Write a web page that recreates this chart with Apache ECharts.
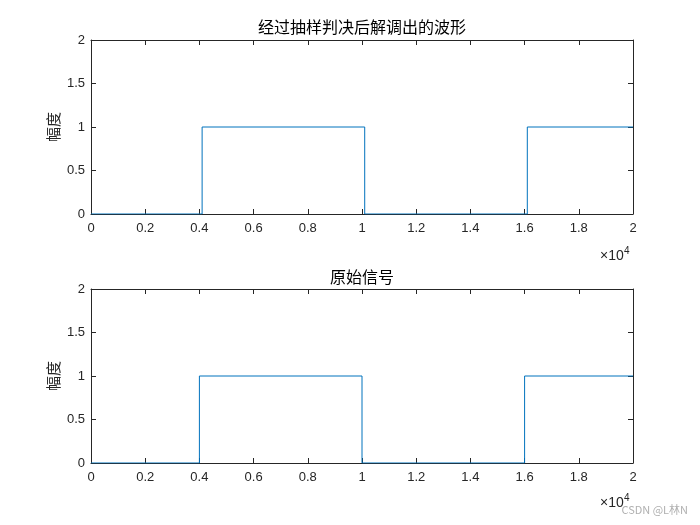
<!DOCTYPE html>
<html>
<head>
<meta charset="utf-8">
<script src="https://cdn.jsdelivr.net/npm/echarts@6/dist/echarts.min.js"></script>
<style>html,body{margin:0;padding:0;background:#fff}#c{width:700px;height:525px}</style>
</head>
<body>
<div id="c"></div>
<script>
// Data
const titleTop = '经过抽样判决后解调出的波形';
const titleBottom = '原始信号';
const yLabel = '幅度';
// step edges (sample index) and levels for each interval
const demodEdges = [0, 4100, 10100, 16100, 20000];
const demodLevels = [0, 1, 0, 1, 1];
const origEdges = [0, 4000, 10000, 16000, 20000];
const origLevels = [0, 1, 0, 1, 1];
const xTickLabels = ['0','0.2','0.4','0.6','0.8','1','1.2','1.4','1.6','1.8','2'];
const yTickLabels = ['0','0.5','1','1.5','2'];

const demodData = demodEdges.map((x, i) => [x, demodLevels[i]]);
const origData = origEdges.map((x, i) => [x, origLevels[i]]);

const axisColor = '#262626';
const font = 'Liberation Sans, Arial, sans-serif';
const cjk = '"Noto Sans CJK SC", sans-serif';

function xAxes(gi) {
  return [{
    type: 'value', gridIndex: gi, min: 0, max: 20000, interval: 2000, position: 'bottom',
    axisLine: {onZero: false, lineStyle: {color: axisColor, width: 1}},
    axisTick: {inside: true, length: 5, lineStyle: {color: axisColor}},
    axisLabel: {color: axisColor, fontFamily: font, fontSize: 13, margin: 8,
      formatter: v => xTickLabels[Math.round(v / 2000)]},
    splitLine: {show: false}
  }, {
    type: 'value', gridIndex: gi, min: 0, max: 20000, interval: 2000, position: 'top',
    axisLine: {onZero: false, lineStyle: {color: axisColor, width: 1}},
    axisTick: {inside: true, length: 5, lineStyle: {color: axisColor}},
    axisLabel: {show: false}, splitLine: {show: false}
  }];
}
function yAxes(gi) {
  return [{
    type: 'value', gridIndex: gi, min: 0, max: 2, interval: 0.5, position: 'left',
    axisLine: {show: true, onZero: false, lineStyle: {color: axisColor, width: 1}},
    axisTick: {show: true, inside: true, length: 5, lineStyle: {color: axisColor}},
    axisLabel: {color: axisColor, fontFamily: font, fontSize: 13, margin: 6,
      formatter: v => yTickLabels[Math.round(v / 0.5)]},
    splitLine: {show: false}
  }, {
    type: 'value', gridIndex: gi, min: 0, max: 2, interval: 0.5, position: 'right',
    axisLine: {show: true, onZero: false, lineStyle: {color: axisColor, width: 1}},
    axisTick: {show: true, inside: true, length: 5, lineStyle: {color: axisColor}},
    axisLabel: {show: false}, splitLine: {show: false}
  }];
}

const chart = echarts.init(document.getElementById('c'), null, {renderer: 'canvas'});
chart.setOption({
  backgroundColor: '#ffffff',
  animation: false,
  title: [
    {text: titleTop, left: 362, top: 19, textAlign: 'center', padding: 0,
     textStyle: {fontFamily: cjk, fontSize: 16, fontWeight: 'normal', color: '#000'}},
    {text: titleBottom, left: 362, top: 269, textAlign: 'center', padding: 0,
     textStyle: {fontFamily: cjk, fontSize: 16, fontWeight: 'normal', color: '#000'}}
  ],
  grid: [
    {left: 91, top: 40, width: 542, height: 174},
    {left: 91, top: 289, width: 542, height: 174}
  ],
  xAxis: [...xAxes(0), ...xAxes(1)],
  yAxis: [...yAxes(0), ...yAxes(1)],
  series: [
    {type: 'line', xAxisIndex: 0, yAxisIndex: 0, data: demodData, step: 'end',
     showSymbol: false, lineStyle: {color: '#0072BD', width: 1}, z: 5},
    {type: 'line', xAxisIndex: 2, yAxisIndex: 2, data: origData, step: 'end',
     showSymbol: false, lineStyle: {color: '#0072BD', width: 1}, z: 5}
  ],
  graphic: [
    {type: 'text', x: 53, y: 127, rotation: Math.PI / 2,
     style: {text: yLabel, fontFamily: cjk, fontSize: 15, fill: axisColor, align: 'center', verticalAlign: 'middle'}},
    {type: 'text', x: 53, y: 376, rotation: Math.PI / 2,
     style: {text: yLabel, fontFamily: cjk, fontSize: 15, fill: axisColor, align: 'center', verticalAlign: 'middle'}},
    {type: 'text', left: 600, top: 249, style: {text: '×10', fontFamily: font, fontSize: 14, fill: axisColor}},
    {type: 'text', left: 624, top: 246, style: {text: '4', fontFamily: font, fontSize: 10, fill: axisColor}},
    {type: 'text', left: 600, top: 496, style: {text: '×10', fontFamily: font, fontSize: 14, fill: axisColor}},
    {type: 'text', left: 624, top: 493, style: {text: '4', fontFamily: font, fontSize: 10, fill: axisColor}},
    {type: 'text', right: 12, top: 504, style: {text: 'CSDN @L林N', fontFamily: cjk, fontSize: 11, fill: '#b0b0b0'}}
  ]
});
</script>
</body>
</html>
